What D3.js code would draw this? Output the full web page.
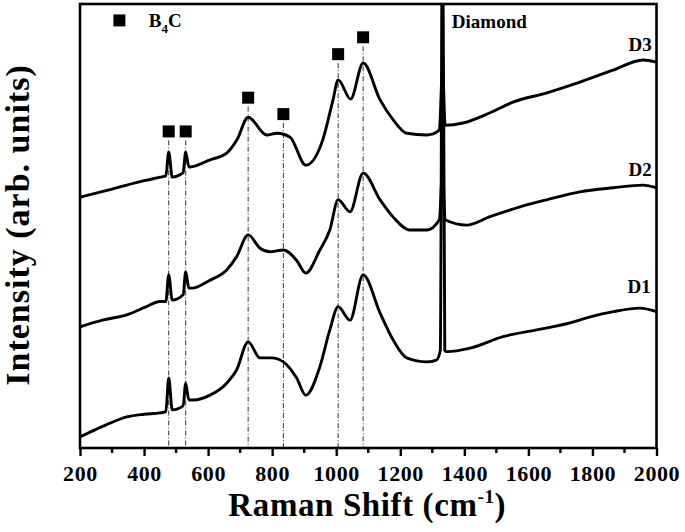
<!DOCTYPE html>
<html>
<head>
<meta charset="utf-8">
<style>
  body{
    margin:0;
    background-color:#fff;
  }
  text{
    font-family:"Liberation Serif","Times New Roman",serif;
    font-weight:bold;
    fill:#000;
  }
</style>
<script src="https://d3js.org/d3.v7.min.js"></script>
</head>
<body>
<svg id="vis"></svg>
<script>
  var width = 685,
    height = 532,
    margin = {top: 4, right: 28.5, bottom: 84, left: 80};

  // spectra, [Raman shift (cm-1), intensity (arb. units)]
  var d1 = [
    [200, 2.5], [250, 4.2], [294, 5.6], [346, 7.0], [400, 7.6], [450, 7.9], [468, 8.2], [477, 15.8], [488, 8.6],
    [522, 9.5], [530, 14.6], [540, 10.8], [554, 10.8], [606, 11.9], [658, 14.6], [689, 17.6],
    [725, 23.9], [762, 20.3], [798, 20.3], [835, 19.4], [876, 15.8], [905, 11.9],
    [949, 18.3], [980, 26.6], [1006, 31.8], [1043, 28.8], [1084, 39.0], [1137, 30.4],
    [1178, 24.3], [1220, 20.3], [1283, 19.4], [1313, 19.8], [1325, 22.0], [1332, 130],
    [1339, 22.0], [1345, 21.7], [1418, 22.5], [1521, 25.1], [1626, 26.6], [1730, 28.2],
    [1782, 29.3], [1865, 30.7], [1948, 31.5], [2000, 30.7]
  ];
  var d2 = [
    [200, 27.3], [270, 28.8], [346, 30.0], [400, 31.6], [450, 33.0], [468, 33.0], [477, 39.0], [488, 33.3],
    [522, 34.5], [530, 39.7], [540, 36.0], [549, 36.0], [606, 37.8], [658, 40.1], [689, 43.1],
    [725, 48.0], [762, 45.0], [793, 44.2], [835, 44.6], [876, 42.3], [905, 39.4],
    [949, 44.6], [980, 49.1], [1006, 55.9], [1043, 53.2], [1084, 61.9], [1137, 55.9],
    [1178, 52.0], [1230, 49.1], [1283, 49.1], [1322, 51.4], [1332, 62.6], [1340, 51.4],
    [1407, 50.2], [1480, 52.1], [1574, 54.3], [1657, 55.9], [1761, 57.7], [1864, 58.6],
    [1958, 59.2], [2000, 58.6]
  ];
  var d3s = [
    [200, 56.5], [300, 58.3], [400, 60.2], [450, 61.0], [468, 61.3], [477, 66.7], [488, 61.0],
    [522, 62.0], [530, 66.7], [540, 63.3], [543, 63.3], [606, 64.9], [658, 66.4], [690, 69.4],
    [725, 74.5], [783, 70.5], [815, 70.9], [856, 70.0], [905, 63.7], [958, 69.4],
    [990, 78.4], [1006, 82.9], [1045, 78.6], [1084, 86.7], [1137, 78.4], [1178, 73.9],
    [1220, 70.9], [1283, 70.5], [1322, 71.6], [1332, 85.6], [1340, 72.7], [1396, 73.2],
    [1480, 75.5], [1552, 77.9], [1658, 80.0], [1761, 82.4], [1864, 85.1], [1958, 87.4],
    [2000, 86.9]
  ];

  // B4C peak positions and marker heights
  var b4cPeaks = [477, 530, 725, 835, 1006, 1084];
  var b4cMarks = [71.3, 71.3, 78.9, 75.2, 88.7, 92.5];

  var xTicks = [200, 400, 600, 800, 1000, 1200, 1400, 1600, 1800, 2000];
  var xMinor = [300, 500, 700, 900, 1100, 1300, 1500, 1700, 1900];

  var labels = [
    {name: "D3", x: 1985, y: 89.4},
    {name: "D2", x: 1985, y: 61.3},
    {name: "D1", x: 1982, y: 34.9}
  ];

  var svg = d3.select("#vis")
    .attr("width", width)
    .attr("height", height);

  var w = width - margin.left - margin.right,
    h = height - margin.top - margin.bottom;

  var x = d3.scaleLinear().domain([200, 2000]).range([margin.left, margin.left + w]);
  var y = d3.scaleLinear().domain([0, 100]).range([margin.top + h, margin.top]);

  svg.append("clipPath").attr("id", "clip")
    .append("rect")
    .attr("x", margin.left).attr("y", margin.top)
    .attr("width", w).attr("height", h);

  var plot = svg.append("g").attr("clip-path", "url(#clip)");

  // dash-dot guide lines ------------------------------
  plot.selectAll(".guide")
    .data(b4cPeaks)
    .enter().append("line")
    .attr("class", "guide")
    .attr("x1", d => x(d))
    .attr("x2", d => x(d))
    .attr("y1", (d, i) => y(b4cMarks[i]) + 9)
    .attr("y2", y(0))
    .style("stroke", "#333")
    .style("stroke-width", 1)
    .style("stroke-dasharray", "5,2,1,2");

  // spectra ------------------------------
  var line = d3.line()
    .x(d => x(d[0]))
    .y(d => y(d[1]))
    .curve(d3.curveMonotoneX);

  plot.selectAll(".spec")
    .data([d1, d2, d3s])
    .enter().append("path")
    .attr("class", "spec")
    .attr("d", line)
    .style("fill", "none")
    .style("stroke", "#000")
    .style("stroke-width", 2.9)
    .style("stroke-linejoin", "round");

  // B4C markers
  svg.selectAll(".mark")
    .data(b4cPeaks)
    .enter().append("rect")
    .attr("class", "mark")
    .attr("x", d => x(d) - 6)
    .attr("y", (d, i) => y(b4cMarks[i]) - 6)
    .attr("width", 12)
    .attr("height", 12)
    .style("fill", "#000");

  // legend
  svg.append("rect")
    .attr("x", x(323) - 6).attr("y", y(96.3) - 6)
    .attr("width", 12).attr("height", 12)
    .style("fill", "#000");
  var leg = svg.append("text")
    .attr("x", x(415)).attr("y", y(94.8))
    .style("font-size", "19px");
  leg.append("tspan").text("B");
  leg.append("tspan").attr("dy", 6).style("font-size", "13px").text("4");
  leg.append("tspan").attr("dy", -6).text("C");

  svg.append("text")
    .attr("x", x(1361)).attr("y", y(94.6))
    .style("font-size", "19px")
    .text("Diamond");

  svg.selectAll(".lab")
    .data(labels)
    .enter().append("text")
    .attr("class", "lab")
    .attr("x", d => x(d.x))
    .attr("y", d => y(d.y))
    .attr("text-anchor", "end")
    .style("font-size", "19px")
    .text(d => d.name);

  // axes ------------------------------
  var xAxis = svg.append("g")
    .attr("transform", "translate(0," + (margin.top + h) + ")")
    .call(d3.axisBottom(x).tickValues(xTicks).tickSize(8).tickFormat(d3.format("d")));
  xAxis.select(".domain").remove();
  xAxis.selectAll("line").style("stroke-width", 2.4);
  xAxis.selectAll("text")
    .attr("dy", "0.71em")
    .attr("y", 17)
    .style("font-size", "22px")
    .style("letter-spacing", "0.6px")
    .style("font-family", "Liberation Serif")
    .style("font-weight", "bold");

  svg.append("g")
    .attr("transform", "translate(0," + (margin.top + h) + ")")
    .selectAll("line")
    .data(xMinor)
    .enter().append("line")
    .attr("x1", d => x(d)).attr("x2", d => x(d))
    .attr("y1", 0).attr("y2", 5)
    .style("stroke", "#000")
    .style("stroke-width", 2.4);

  // frame
  svg.append("rect")
    .attr("x", margin.left).attr("y", margin.top)
    .attr("width", w).attr("height", h)
    .style("fill", "none")
    .style("stroke", "#000")
    .style("stroke-width", 2.6);

  // titles
  var xt = svg.append("text")
    .attr("x", margin.left + w / 2 - 1)
    .attr("y", 516)
    .attr("text-anchor", "middle")
    .style("font-size", "33px")
    .style("letter-spacing", "0.6px");
  xt.append("tspan").text("Raman Shift (cm");
  xt.append("tspan").attr("dy", -13).style("font-size", "19px").text("-1");
  xt.append("tspan").attr("dy", 13).text(")");

  svg.append("text")
    .attr("transform", "translate(29," + 225 + ") rotate(-90)")
    .attr("text-anchor", "middle")
    .style("font-size", "34px")
    .style("letter-spacing", "1px")
    .text("Intensity (arb. units)");
</script>
</body>
</html>
